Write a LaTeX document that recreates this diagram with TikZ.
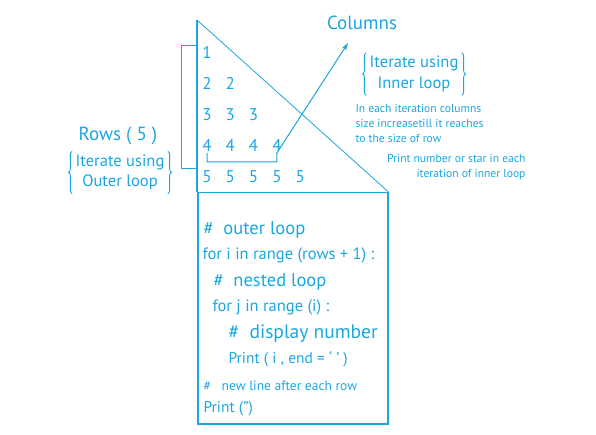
\documentclass[tikz,border=0pt]{standalone}
\usepackage{fontspec}
\setmainfont{PT Sans}
\usepackage{tikz}
\usetikzlibrary{arrows.meta, calc, decorations.pathreplacing}

\definecolor{loopblue}{HTML}{1BA6E0}

\tikzset{
  num/.style={anchor=base, inner sep=1pt, font=\fontsize{17}{17}\selectfont},
  bigtxt/.style={font=\fontsize{19}{21}\selectfont},
  midtxt/.style={font=\fontsize{16.5}{20.5}\selectfont, align=center, inner xsep=0pt, inner ysep=3pt},
  smalltxt/.style={font=\fontsize{11.6}{15}\selectfont, inner sep=0pt},
  codeline/.style={anchor=base west, inner sep=0pt},
  curly/.style={decorate, decoration={brace, amplitude=3.5pt}, line width=0.9pt},
}

\begin{document}
\begin{tikzpicture}[x=1pt, y=-1pt, color=loopblue, line width=1pt]
\useasboundingbox (0,0) rectangle (596,435);

% triangle of numbers
\coordinate (apex) at (197,20);
\node[draw, line width=1.5pt, minimum width=190pt, minimum height=231pt, anchor=north west, inner sep=0pt] (codebox) at (197,192) {};
\draw[line width=1.5pt] (apex) -- (codebox.north west);
\draw[line width=0.8pt] (apex) -- (codebox.north east);

\foreach \r in {1,...,5}
  \foreach \c in {1,...,\r}
    \node[num] (n\r\c) at ({207+23.3*(\c-1)}, {59+30.8*(\r-1)}) {\r};

% rows
\draw (n11.north -| codebox.west) -- ++(-16,0) |- (n51.north -| codebox.west);
\node[bigtxt, anchor=base] (rows) at (118,141) {Rows ( 5 )};
\node[midtxt] (outerloop) at (120,172.5) {Iterate using\\Outer loop};
\draw[curly] ([xshift=-3pt]outerloop.south west) -- ([xshift=-3pt]outerloop.north west);
\draw[curly] ([xshift=3pt]outerloop.north east) -- ([xshift=3pt]outerloop.south east);

% columns
\node[bigtxt, anchor=base] (columns) at (362,30) {Columns};
\coordinate (colstip) at (348,43);
\draw[-{Stealth[length=8pt, width=5pt]}] (n41.south) |- (n44.south |- 0,162) -- (n44.south) -- (colstip);
\node[midtxt] (innerloop) at (414,74) {Iterate using\\Inner loop};
\draw[curly] ([xshift=-3pt]innerloop.south west) -- ([xshift=-3pt]innerloop.north west);
\draw[curly] ([xshift=3pt]innerloop.north east) -- ([xshift=3pt]innerloop.south east);

\node[smalltxt, align=left, anchor=north west] (colsnote) at (355,104)
  {In each iteration columns\\size increasetill it reaches\\to the size of row};
\node[smalltxt, align=right, anchor=north east] (printnote) at (526,154)
  {Print number or star in each\\iteration of inner loop};

% code in the box
\node[codeline, font=\fontsize{18.5}{18}\selectfont] (code1) at (203,235) {\#\ \ outer loop};
\node[codeline, font=\fontsize{16.5}{15}\selectfont] (code2) at (202,260) {for i in range (rows + 1) :};
\node[codeline, font=\fontsize{18.5}{18}\selectfont] (code3) at (213,287) {\#\ \ nested loop};
\node[codeline, font=\fontsize{16.5}{15}\selectfont] (code4) at (212,311) {for j in range (i) :};
\node[codeline, font=\fontsize{19.5}{18}\selectfont] (code5) at (228,338) {\#\ \ display number};
\node[codeline, font=\fontsize{15.5}{15}\selectfont] (code6) at (228,363) {Print ( i , end = ‘ ’ )};
\node[codeline, font=\fontsize{13.5}{13}\selectfont] (code7) at (203,390) {\#\ \ \ new line after each row};
\node[codeline, font=\fontsize{15.5}{15}\selectfont] (code8) at (203,412) {Print (”)};
\end{tikzpicture}
\end{document}
